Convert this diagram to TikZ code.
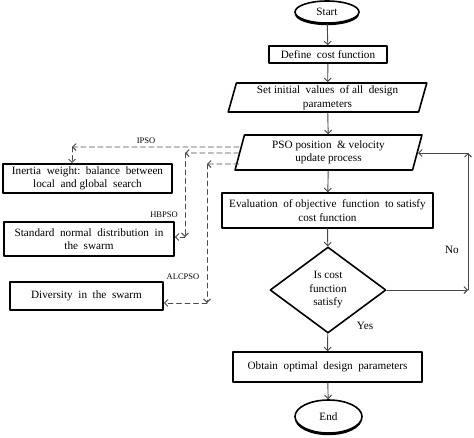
\documentclass[tikz,border=0pt]{standalone}
\usepackage{fontspec}
\setmainfont{Liberation Serif}
\usepackage{tikz}
\usetikzlibrary{positioning, shapes.geometric, arrows.meta, shadows}

\begin{document}
\begin{tikzpicture}[x=1pt, y=1pt, line cap=round, line join=round,
    font=\fontsize{11.2}{13.5}\selectfont,
    box/.style={draw, line width=1.6pt, rectangle, align=center, inner sep=1pt},
    iobox/.style={draw, line width=1.6pt, trapezium, trapezium left angle=76, trapezium right angle=104,
        trapezium stretches=true, align=center, inner sep=1pt},
    term/.style={draw, line width=1.6pt, ellipse, fill=white, inner sep=0pt,
        drop shadow={shadow xshift=0pt, shadow yshift=-2.2pt, fill=black, opacity=1}},
    decision/.style={draw, line width=1.6pt, diamond, aspect=1.35, align=center, inner sep=0pt},
    flow/.style={draw=gray!55!black, line width=0.9pt, -{Straight Barb[length=3.5pt, width=7pt]}},
    branch/.style={draw=black!70, line width=0.9pt, dash pattern=on 5pt off 3.5pt,
        -{Straight Barb[length=3.5pt, width=7pt]}},
    tag/.style={font=\fontsize{8.5}{10}\selectfont}]
    \useasboundingbox (0,0) rectangle (474,-437);
    % main column
    \node[term, minimum width=64, minimum height=22] (start) at (327,-12) {Start};
    \node[box, minimum width=118, minimum height=17] (define) at (328,-54.5) {Define\ \ cost function};
    \node[iobox, minimum width=199, minimum height=29] (init) at (327.5,-97.5)
        {Set initial\ \ values\ \ of all\ \ design\\parameters};
    \node[iobox, minimum width=187, minimum height=35] (pso) at (328.5,-152.5)
        {PSO position\ \ \& velocity\\update process};
    \node[box, minimum width=211, minimum height=35] (eval) at (327.5,-210.5)
        {Evaluation\ \ of objective\ \ function\ \ to satisfy\\cost function};
    \node[decision, minimum width=116, minimum height=86] (check) at (328,-290)
        {Is cost\\function\\satisfy};
    \node[box, minimum width=189, minimum height=30] (obtain) at (327.5,-367)
        {Obtain\ \ optimal\ \ design\ \ parameters};
    \node[term, minimum width=67, minimum height=33] (end) at (328.5,-416.5) {End};
    % variants on the left
    \node[box, minimum width=169, minimum height=29] (inertia) at (87.5,-178.5)
        {Inertia\ \ weight:\ \ balance\ \ between\\local\ \ and global\ \ search};
    \node[box, minimum width=170, minimum height=34] (normal) at (89,-239)
        {Standard\ \ normal\ \ distribution\ \ in\\the\ \ swarm};
    \node[box, minimum width=153, minimum height=28] (diversity) at (86.5,-296)
        {Diversity\ \ in\ \ the\ \ swarm};
    % main flow
    \draw[flow] (start) -- (define);
    \draw[flow] (define) -- (init);
    \draw[flow] (init) -- (pso);
    \draw[flow] (pso) -- (eval);
    \draw[flow] (eval) -- (check);
    \draw[flow] (check) -- (obtain);
    \draw[flow] (obtain) -- (end);
    \node at (365,-326) {Yes};
    % loop back
    \coordinate (noA) at (468,-290);
    \coordinate (noB) at (468,-153);
    \draw[flow] (check.east) -- (noA);
    \draw[flow] (noA) -- (noB);
    \draw[flow] (noB) -- (noB -| pso.east);
    \node at (452,-250) {No};
    % IPSO
    \coordinate (ipA) at (72,-147);
    \draw[branch] ([yshift=5.5pt]pso.west) -- (ipA);
    \draw[branch] (ipA) -- (ipA |- inertia.north);
    \node[tag] at (146,-141) {IPSO};
    % HBPSO
    \coordinate (hbA) at (185,-153);
    \coordinate (hbB) at (185,-237);
    \draw[branch] ([yshift=-0.5pt]pso.west) -- (hbA);
    \draw[branch] (hbA) -- (hbB);
    \draw[branch] (hbB) -- (hbB -| normal.east);
    \node[tag] at (164,-215) {HBPSO};
    % ALCPSO
    \coordinate (alA) at (207,-164);
    \coordinate (alB) at (207,-303);
    \draw[branch] ([yshift=-11.5pt]pso.west) -- (alA);
    \draw[branch] (alA) -- (alB);
    \draw[branch] (alB) -- (alB -| diversity.east);
    \node[tag] at (183,-277) {ALCPSO};
\end{tikzpicture}
\end{document}
